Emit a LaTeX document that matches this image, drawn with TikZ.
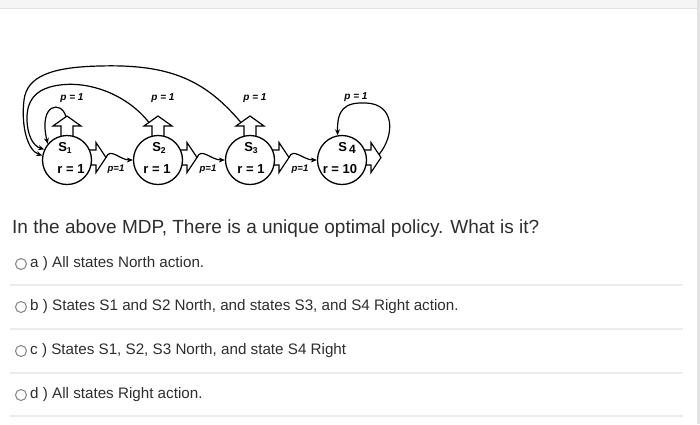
\documentclass[tikz,border=0pt]{standalone}
\usepackage{fontspec}
\setmainfont{Liberation Sans}
\newfontfamily\diagfont{Liberation Sans}
\usetikzlibrary{arrows.meta}
\pgfdeclarelayer{back}
\pgfdeclarelayer{bg}
\pgfsetlayers{back,bg,main}
\definecolor{txt}{HTML}{2E2E2E}
\definecolor{sep}{HTML}{ECECEC}
\definecolor{radio}{HTML}{8A8A8A}
\definecolor{band}{HTML}{F5F5F5}
\definecolor{bandline}{HTML}{E2E2E2}
\tikzset{
  state/.style={circle,draw,line width=1.3pt,fill=white,minimum size=49pt,inner sep=0pt},
  blk/.style={draw,fill=white,line width=1.2pt,line join=miter},
  conn/.style={line width=1.2pt,-{Stealth[length=6pt,width=5pt]}},
  slabel/.style={font=\diagfont\bfseries\fontsize{13}{13}\selectfont,inner sep=0pt},
  rlabel/.style={font=\diagfont\bfseries\fontsize{13}{13}\selectfont,inner sep=0pt},
  ptop/.style={font=\diagfont\bfseries\itshape\fontsize{10}{10}\selectfont,inner sep=0pt},
  plow/.style={font=\diagfont\bfseries\itshape\fontsize{9.5}{10}\selectfont,inner sep=0pt},
  question/.style={font=\fontsize{19}{22}\selectfont,text=txt,anchor=west,inner sep=0pt},
  option/.style={font=\fontsize{15.2}{18}\selectfont,text=txt,anchor=west,inner sep=0pt},
  radiobtn/.style={circle,draw=radio,line width=1.1pt,minimum size=11pt,inner sep=0pt},
  seprule/.style={draw=sep,line width=1.3pt},
  northarr/.pic={
    \draw[blk] (-6,-18) -- (-6,-34) -- (-14,-34) -- (0,-44) -- (14,-34) -- (6,-34) -- (6,-18);
    \coordinate (-tip) at (-1,-43);
    \coordinate (-ul) at (-9,-37.5);
  },
  eastarr/.pic={
    \draw[blk] (18,-10) -- (29,-10) -- (29,-17.5) -- (39,-2.5) -- (29,12.5) -- (29,5) -- (18,5);
    \coordinate (-tip) at (39,-2.5);
    \coordinate (-ur) at (37,-5.5);
  }
}
\begin{document}
\begin{tikzpicture}[x=1pt,y=-1pt]
\useasboundingbox (0,0) rectangle (700,424);
\begin{pgfonlayer}{back}
\fill[white] (0,0) rectangle (700,424);
\fill[band] (0,0) rectangle (700,8);
\draw[bandline,line width=1pt] (0,8.5) -- (700,8.5);
\fill[bandline] (697,0) rectangle (700,424);
\end{pgfonlayer}

% states
\node[state] (s1) at (67,160) {};
\node[state] (s2) at (158,160) {};
\node[state] (s3) at (250,160) {};
\node[state] (s4) at (342,160) {};

\node[slabel] (l1) at (65,148) {S\raisebox{-2.5pt}{\fontsize{8.5}{8}\selectfont 1}};
\node[slabel] (l2) at (159,148) {S\raisebox{-2.5pt}{\fontsize{8.5}{8}\selectfont 2}};
\node[slabel] (l3) at (251,148) {S\raisebox{-2.5pt}{\fontsize{8.5}{8}\selectfont 3}};
\node[slabel] (l4) at (347,148) {S\,\raisebox{-1.5pt}{\fontsize{12}{12}\selectfont 4}};
\node[rlabel] (r1) at (71,169) {r = 1};
\node[rlabel] (r2) at (157,169) {r = 1};
\node[rlabel] (r3) at (251,169) {r = 1};
\node[rlabel] (r4) at (340,169) {r = 10};

% block arrows
\begin{pgfonlayer}{bg}
\pic (n1) at (s1.center) {northarr};
\pic (n2) at (s2.center) {northarr};
\pic (n3) at (s3.center) {northarr};
\pic (e1) at (s1.center) {eastarr};
\pic (e2) at (s2.center) {eastarr};
\pic (e3) at (s3.center) {eastarr};
\pic (e4) at (s4.center) {eastarr};
\end{pgfonlayer}

% labels p = 1
\node[ptop] (p1) at (72,98) {p = 1};
\node[ptop] (p2) at (163,98) {p = 1};
\node[ptop] (p3) at (255,98) {p = 1};
\node[ptop] (p4) at (356,97) {p = 1};
\node[plow] (q1) at (116,169) {p=1};
\node[plow] (q2) at (208,169) {p=1};
\node[plow] (q3) at (300,169) {p=1};

% north transitions
\draw[conn] (n1-tip) .. controls (62,100) and (38,103) .. (s1.140);
\draw[conn] (n2-ul) .. controls (125,92) and (82,78) .. (50,87)
  .. controls (36,91) and (27,100) .. (27,118)
  .. controls (27,135) and (33,146) .. (s1.155);
\draw[conn] (n3-ul) .. controls (205,80) and (170,64) .. (100,66)
  .. controls (52,67) and (27,76) .. (24,100)
  .. controls (21,125) and (27,150) .. (s1.170);
\draw[conn] (e4-ur) .. controls (395,135) and (395,104) .. (366,103)
  .. controls (344,102) and (337,110) .. (s4.100);

% east transitions
\draw[conn] (e1-tip) .. controls (110,147) and (120,160) .. (s2.west);
\draw[conn] (e2-tip) .. controls (201,147) and (211,160) .. (s3.west);
\draw[conn] (e3-tip) .. controls (293,147) and (303,160) .. (s4.west);

% question and options
\node[question] (qq) at (12,229) {In the above MDP, There is a unique optimal policy. What is it?};

\node[radiobtn] (ra) at (21,264) {};
\node[option] (oa) at (30,264) {a ) All states North action.};
\draw[seprule] (10,285) -- (683,285);
\node[radiobtn] (rb) at (21,307) {};
\node[option] (ob) at (30,307) {b ) States S1 and S2 North, and states S3, and S4 Right action.};
\draw[seprule] (10,329) -- (683,329);
\node[radiobtn] (rc) at (21,351) {};
\node[option] (oc) at (30,351) {c ) States S1, S2, S3 North, and state S4 Right};
\draw[seprule] (10,373) -- (683,373);
\node[radiobtn] (rd) at (21,395) {};
\node[option] (od) at (30,395) {d ) All states Right action.};
\draw[seprule] (10,416) -- (683,416);
\end{tikzpicture}
\end{document}
